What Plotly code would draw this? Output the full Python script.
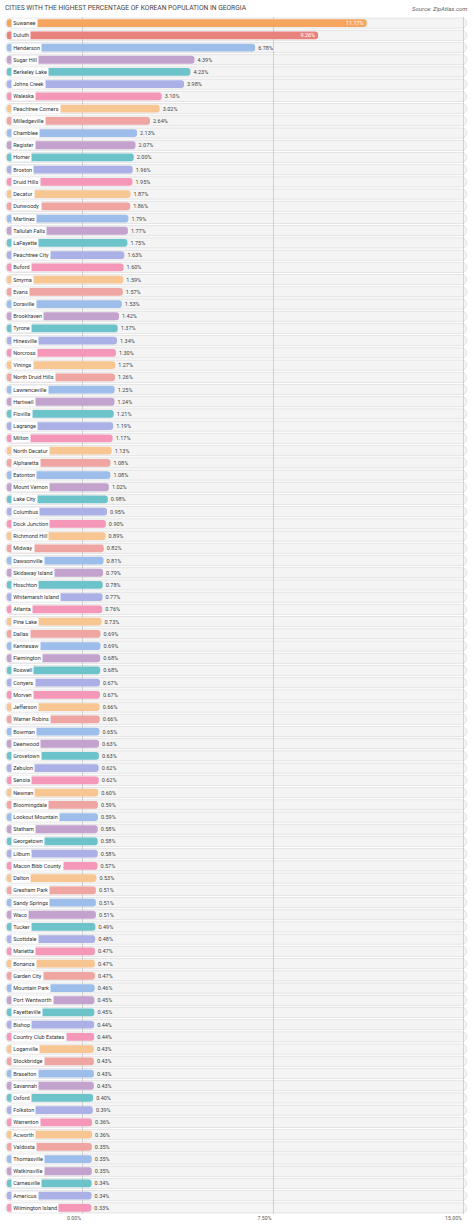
import plotly.graph_objects as go

cities = ["Suwanee", "Duluth", "Henderson", "Sugar Hill", "Berkeley Lake", "Johns Creek", "Waleska",
          "Peachtree Corners", "Milledgeville", "Chamblee", "Register", "Homer", "Broxton", "Druid Hills",
          "Decatur", "Dunwoody", "Martinez", "Tallulah Falls", "LaFayette", "Peachtree City", "Buford",
          "Smyrna", "Evans", "Doraville", "Brookhaven", "Tyrone", "Hinesville", "Norcross", "Vinings",
          "North Druid Hills", "Lawrenceville", "Hartwell", "Flovilla", "Lagrange", "Milton",
          "North Decatur", "Alpharetta", "Eatonton", "Mount Vernon", "Lake City", "Columbus",
          "Dock Junction", "Richmond Hill", "Midway", "Dawsonville", "Skidaway Island", "Hoschton",
          "Whitemarsh Island", "Atlanta", "Pine Lake", "Dallas", "Kennesaw", "Flemington", "Roswell",
          "Conyers", "Morven", "Jefferson", "Warner Robins", "Bowman", "Deenwood", "Grovetown", "Zebulon",
          "Senoia", "Newnan", "Bloomingdale", "Lookout Mountain", "Statham", "Georgetown", "Lilburn",
          "Macon Bibb County", "Dalton", "Gresham Park", "Sandy Springs", "Waco", "Tucker", "Scottdale",
          "Marietta", "Bonanza", "Garden City", "Mountain Park", "Port Wentworth", "Fayetteville",
          "Bishop", "Country Club Estates", "Loganville", "Stockbridge", "Braselton", "Savannah",
          "Oxford", "Folkston", "Warrenton", "Acworth", "Valdosta", "Thomasville", "Watkinsville",
          "Carnesville", "Americus", "Wilmington Island"]

values = [11.17, 9.26, 6.78, 4.39, 4.23, 3.98, 3.10, 3.02, 2.64, 2.13, 2.07, 2.00, 1.96, 1.95,
          1.87, 1.86, 1.79, 1.77, 1.75, 1.63, 1.60, 1.59, 1.57, 1.53, 1.42, 1.37, 1.34, 1.30, 1.27,
          1.26, 1.25, 1.24, 1.21, 1.19, 1.17, 1.13, 1.08, 1.08, 1.02, 0.98, 0.95, 0.90, 0.89, 0.82,
          0.81, 0.79, 0.78, 0.77, 0.76, 0.73, 0.69, 0.69, 0.68, 0.68, 0.67, 0.67, 0.66, 0.66, 0.65,
          0.63, 0.63, 0.62, 0.62, 0.60, 0.59, 0.59, 0.58, 0.58, 0.58, 0.57, 0.53, 0.51, 0.51, 0.51,
          0.49, 0.48, 0.47, 0.47, 0.47, 0.46, 0.45, 0.45, 0.44, 0.44, 0.43, 0.43, 0.43, 0.43, 0.40,
          0.39, 0.36, 0.36, 0.35, 0.35, 0.35, 0.34, 0.34, 0.33]

tick_vals = [0, 7.5, 15]
tick_text = ["0.00%", "7.50%", "15.00%"]

# styling
palette = ["#9DBEEA", "#C3A3CE", "#6CC3CA", "#ABB1E7", "#F497B8", "#F8C692", "#EFA5A1"]
highlight = ["#F5A55E", "#E8827C"]
colors = [highlight[i] if i < 2 else palette[(i - 2) % len(palette)] for i in range(len(cities))]
FONT = "Roboto"
X_MIN, X_MAX = -3.07, 15.2
BAR_BASE = -3.0
BG_LEFT, BG_RIGHT = -3.05, 15.12

n = len(cities)
text_pos = ["inside" if i < 2 else "outside" for i in range(n)]
text_col = ["white" if i < 2 else "#444444" for i in range(n)]

fig = go.Figure()

# row background pills
fig.add_trace(go.Bar(
    y=cities, x=[BG_RIGHT - BG_LEFT] * n, base=BG_LEFT, orientation="h",
    width=0.84,
    marker=dict(color="rgba(0,0,0,0.045)", line=dict(color="rgba(0,0,0,0.11)", width=0.8),
                cornerradius=6),
    hoverinfo="skip", showlegend=False,
))

# value bars
fig.add_trace(go.Bar(
    y=cities, x=[v - BAR_BASE for v in values], base=BAR_BASE, orientation="h",
    width=0.64,
    marker=dict(color=colors, line=dict(width=0), cornerradius=4),
    text=[f"{v:.2f}%" for v in values],
    textposition=text_pos,
    insidetextanchor="end",
    textfont=dict(family=FONT, size=5.5, color=text_col),
    constraintext="none",
    cliponaxis=False,
    showlegend=False,
))

annotations = []
for c in cities:
    annotations.append(dict(
        x=-2.82, y=c, xref="x", yref="y", text=c, showarrow=False, xanchor="left",
        font=dict(family=FONT, size=5.5, color="#333333"),
        bgcolor="white", borderpad=1.2,
    ))

annotations.append(dict(
    x=1, y=1.0075, xref="paper", yref="paper", text="<i>Source: ZipAtlas.com</i>",
    showarrow=False, xanchor="right", yanchor="middle",
    font=dict(family=FONT, size=6, color="#666666"),
))

fig.update_layout(
    width=474, height=1226,
    margin=dict(l=5, r=5, t=17, b=12),
    paper_bgcolor="white", plot_bgcolor="white",
    barmode="overlay",
    title=dict(text="CITIES WITH THE HIGHEST PERCENTAGE OF KOREAN POPULATION IN GEORGIA",
               x=5 / 474, xref="container", xanchor="left",
               y=1 - 8 / 1226, yref="container", yanchor="middle",
               font=dict(family=FONT, size=6.7, color="#444444")),
    xaxis=dict(range=[X_MIN, X_MAX], tickvals=tick_vals, ticktext=tick_text,
               showgrid=True, gridcolor="#dcdcdc", gridwidth=1, zeroline=False,
               ticks="", ticklabelposition="outside left", ticklabelshift=-2,
               tickfont=dict(family=FONT, size=5.2, color="#555555"),
               automargin=False, fixedrange=True),
    yaxis=dict(categoryorder="array", categoryarray=cities, range=[n - 0.5, -0.5],
               showticklabels=False, showgrid=False, zeroline=False, automargin=False,
               fixedrange=True),
    annotations=annotations,
    font=dict(family=FONT),
    hovermode=False,
)

fig.write_html("out.html", config={"displayModeBar": False, "staticPlot": True},
               post_script="document.body.style.margin='0';document.body.style.overflow='hidden';")
